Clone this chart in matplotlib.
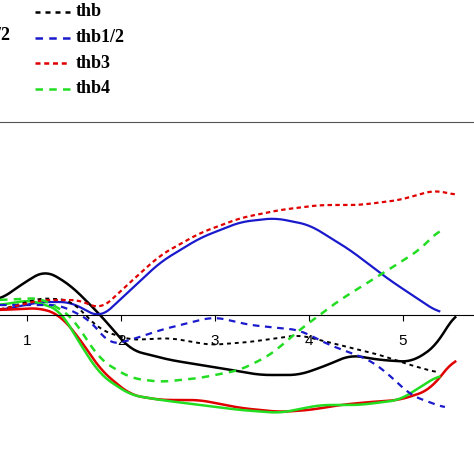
import matplotlib
matplotlib.use('Agg')
import matplotlib.pyplot as plt
import numpy as np
from matplotlib.lines import Line2D

# data (x in axis units, y in axis units)
black_x = [0.71, 0.93, 1.19, 1.46, 1.78, 2.1, 2.52, 3.05, 3.48, 3.9, 4.2, 4.44, 4.76, 5.1, 5.37, 5.56]
black_y = [0.15, 0.30, 0.45, 0.30, 0.0, -0.35, -0.45, -0.53, -0.60, -0.60, -0.50, -0.40, -0.45, -0.47, -0.30, 0.03]

blue_x = [0.71, 1.14, 1.46, 1.78, 2.1, 2.42, 2.84, 3.27, 3.64, 4.01, 4.44, 4.86, 5.18, 5.39]
blue_y = [0.05, 0.13, 0.13, -0.03, 0.25, 0.53, 0.77, 0.93, 0.97, 0.90, 0.65, 0.35, 0.15, 0.02]

red_x = [0.71, 1.14, 1.57, 1.78, 2.1, 2.42, 2.84, 3.27, 3.69, 4.12, 4.54, 4.97, 5.34, 5.56]
red_y = [0.05, 0.15, 0.15, 0.05, 0.33, 0.60, 0.82, 0.97, 1.05, 1.10, 1.10, 1.15, 1.25, 1.20]

green_d_x = [0.71, 1.14, 1.46, 1.78, 2.1, 2.42, 2.84, 3.27, 3.59, 3.9, 4.33, 4.76, 5.18, 5.41]
green_d_y = [0.15, 0.17, 0.0, -0.45, -0.63, -0.67, -0.63, -0.55, -0.40, -0.15, 0.15, 0.40, 0.65, 0.87]

blackd_x = [0.71, 1.14, 1.46, 1.78, 2.1, 2.52, 2.95, 3.37, 3.9, 4.33, 4.76, 5.08, 5.39]
blackd_y = [0.05, 0.17, 0.15, -0.15, -0.25, -0.23, -0.30, -0.27, -0.20, -0.30, -0.40, -0.50, -0.58]

blued_x = [0.71, 1.35, 1.67, 1.88, 2.1, 2.42, 2.84, 3.0, 3.37, 3.9, 4.22, 4.65, 4.86, 5.08, 5.45]
blued_y = [0.10, 0.10, -0.05, -0.30, -0.25, -0.15, -0.05, -0.02, -0.10, -0.15, -0.30, -0.45, -0.60, -0.80, -0.93]

reds_x = [0.71, 1.14, 1.35, 1.57, 1.78, 2.1, 2.42, 2.84, 3.27, 3.69, 4.01, 4.33, 4.65, 4.97, 5.29, 5.56]
reds_y = [0.05, 0.07, 0.0, -0.25, -0.55, -0.80, -0.85, -0.85, -0.93, -0.97, -0.95, -0.90, -0.87, -0.85, -0.75, -0.43]

greens_x = [0.71, 1.03, 1.35, 1.57, 1.78, 2.1, 2.42, 2.84, 3.27, 3.69, 4.12, 4.54, 4.97, 5.39]
greens_y = [0.10, 0.15, 0.05, -0.30, -0.60, -0.80, -0.85, -0.90, -0.95, -0.98, -0.90, -0.90, -0.85, -0.60]

fig = plt.figure(figsize=(4.74, 4.74), dpi=100)
ax = fig.add_axes([0, 0, 1, (474 - 122) / 474])
ax.set_xlim(0.71, 5.76)
ax.set_ylim(-1.59, 1.93)

def smooth(x, y):
    xs = np.linspace(x[0], x[-1], 300)
    ys = np.interp(xs, x, y)
    k = np.ones(15) / 15
    yp = np.pad(ys, 7, mode='edge')
    return xs, np.convolve(yp, k, mode='valid')

ax.plot(*smooth(black_x, black_y), color='black', lw=1.8)
ax.plot(*smooth(blue_x, blue_y), color='#1a1acc', lw=1.6)
ax.plot(*smooth(reds_x, reds_y), color='#e00000', lw=1.8)
ax.plot(*smooth(greens_x, greens_y), color='#22dd22', lw=1.8)
ax.plot(*smooth(blackd_x, blackd_y), color='black', lw=1.4, ls=(0, (2, 2)))
ax.plot(*smooth(blued_x, blued_y), color='#1a1acc', lw=1.6, ls=(0, (3, 2.5)))
ax.plot(*smooth(red_x, red_y), color='#e00000', lw=1.6, ls=(0, (2, 1.5)))
ax.plot(*smooth(green_d_x, green_d_y), color='#22dd22', lw=1.8, ls=(0, (3, 2.5)))

for s in ['left', 'right']:
    ax.spines[s].set_visible(False)
ax.spines['top'].set_color('#555555')
ax.spines['bottom'].set_position(('data', 0))
ax.set_yticks([])
ax.set_xticks([1, 2, 3, 4, 5])
ax.tick_params(axis='x', direction='out', length=4, labelsize=11, pad=10)
for t in ax.get_xticklabels():
    t.set_family('Liberation Sans')

# legend (right column visible, left column cut off)
leg = [('thb', 'black', (0, (2, 2))), ('thb1/2', '#1a1acc', (0, (3, 2.5))),
       ('thb3', '#e00000', (0, (2, 1.5))), ('thb4', '#22dd22', (0, (3, 2.5)))]
for i, (lab, c, ls) in enumerate(leg):
    yy = 1 - (12 + 25.5 * i) / 474
    fig.add_artist(Line2D([35 / 474, 70 / 474], [yy, yy], color=c, ls=ls, lw=1.8,
                          transform=fig.transFigure))
    fig.text(76 / 474, yy, lab, fontsize=13, fontweight='bold', va='center',
             family='Liberation Serif')
fig.text(11 / 474, 1 - 36 / 474, 'th1/2', fontsize=13, fontweight='bold', va='center',
         ha='right', family='Liberation Serif')

fig.savefig('out.png', dpi=100)
